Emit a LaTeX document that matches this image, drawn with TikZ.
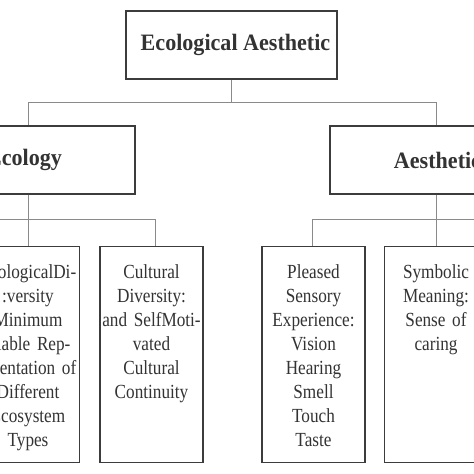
\documentclass[tikz,border=0pt]{standalone}
\usepackage{fontspec}
\setmainfont{Liberation Serif}
\newfontfamily\bodyfont[FakeStretch=0.86]{Liberation Serif}
\newfontfamily\headfont[FakeStretch=0.94]{Liberation Serif}
\definecolor{txt}{HTML}{333333}
\definecolor{boxc}{HTML}{3C3C3C}
\definecolor{linkc}{HTML}{8A8A8A}
\begin{document}
\begin{tikzpicture}[x=1pt,y=-1pt,
  box/.style={draw=boxc, line width=1.1pt, inner sep=0pt},
  head/.style={box, minimum height=68pt, text=txt,
    font=\headfont\fontsize{23.5}{26}\selectfont\bfseries},
  leaf/.style={box, text width=99pt, align=center, inner xsep=2pt, inner ysep=20pt,
    text height=12pt, text depth=164pt, text=txt,
    font=\bodyfont\fontsize{20}{24}\selectfont},
  link/.style={draw=linkc, line width=0.9pt}]
\useasboundingbox (0,0) rectangle (474,474);
\clip (0,0) rectangle (474,474);
\fill[white] (0,0) rectangle (474,474);
% boxes
\node[head, minimum width=211pt] (top) at (231.5,45) {\hspace*{8pt}Ecological Aesthetic};
\node[head, minimum width=214pt] (eco) at (28,160) {Ecology\hspace*{7pt}};
\node[head, minimum width=212pt] (aes) at (436,160) {\hspace*{3pt}Aesthetic};
\node[leaf, anchor=north] (b1) at (28,246) {EcologicalDi-\\:versity\\Minimum\\Viable Rep-\\resentation of\\Different\\Ecosystem\\Types};
\node[leaf, anchor=north] (b2) at (151.5,246) {Cultural\\Diversity:\\and SelfMoti-\\vated\\Cultural\\Continuity};
\node[leaf, anchor=north] (b3) at (313.5,246) {Pleased\\Sensory\\Experience:\\Vision\\Hearing\\Smell\\Touch\\Taste};
\node[leaf, anchor=north] (b4) at (436,246) {Symbolic\\Meaning:\\Sense of\\caring};
% connectors
\draw[link] (top.south) -- ++(0,23) coordinate (tj);
\draw[link] (tj) -| (eco.north);
\draw[link] (tj) -| (aes.north);
\coordinate (lend) at (-20,219);
\coordinate (rend) at (494,219);
\draw[link] (eco.south) -- (b1.north);
\draw[link] (lend) -| ([xshift=4pt]b2.north);
\draw[link] (aes.south) -- (b4.north);
\draw[link] ([xshift=-1.5pt]b3.north) |- (rend);
\end{tikzpicture}
\end{document}
